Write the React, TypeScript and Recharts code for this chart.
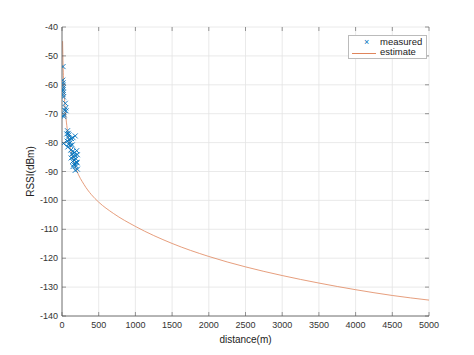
import {
  ComposedChart,
  Line,
  Scatter,
  XAxis,
  YAxis,
  CartesianGrid,
} from 'recharts';

// measured samples (distance in m, RSSI in dBm)
const measuredDist = [
  14, 10, 15, 12, 17, 13, 18, 14, 20,
  45, 50, 35, 55, 30, 25,
  75, 65, 85, 95, 180, 150, 130, 84, 100, 70, 110, 20, 90, 120, 80, 140,
  120, 150, 200, 170, 135, 180, 210, 155, 125, 190, 165, 145, 200, 175, 160, 190, 150, 210, 180, 205,
];
const measuredRssi = [
  -53.7, -58.4, -59.3, -60.2, -61.0, -61.8, -62.6, -63.4, -64.2,
  -66.4, -68.0, -68.8, -69.0, -70.4, -71.0,
  -75.9, -77.0, -76.8, -77.3, -77.7, -78.3, -78.6, -78.2, -79.0, -79.5, -80.0, -80.3, -80.6, -81.0, -81.5, -80.8,
  -82.6, -83.0, -82.8, -83.5, -84.0, -84.4, -84.2, -85.0, -85.3, -85.6, -86.0, -86.5, -86.8, -87.2, -87.6, -88.0, -88.3, -89.2, -89.6, -87.0,
];

// estimated path loss curve
const estimateDist = [8, 15, 25, 40, 60, 80, 100, 150, 200, 300, 400, 500, 700, 1000, 1500, 2000, 2500, 3000, 3500, 4000, 4500, 5000];
const estimateRssi = [-44.9, -53.6, -60.7, -67.3, -72.9, -76.9, -80.0, -85.6, -89.6, -94.5, -98.0, -100.6, -104.5, -109.0, -114.9, -119.4, -123.0, -126.0, -128.6, -130.9, -132.9, -134.5];

const xTicks = [0, 500, 1000, 1500, 2000, 2500, 3000, 3500, 4000, 4500, 5000];
const yTicks = [-140, -130, -120, -110, -100, -90, -80, -70, -60, -50, -40];

const measured = measuredDist.map((d, i) => ({ d, rssi: measuredRssi[i] }));
const estimate = estimateDist.map((d, i) => ({ d, rssi: estimateRssi[i] }));

const PLOT = { left: 62, right: 429, top: 27, bottom: 316 };
const AXIS = '#555';
const ORANGE = '#E0855C';
const FONT = '"Liberation Sans", Arial, Helvetica, sans-serif';

const XTick = (props: any) => {
  const { x, payload } = props;
  return (
    <g>
      <line x1={x} x2={x} y1={PLOT.bottom} y2={PLOT.bottom - 4} stroke={AXIS} strokeWidth={0.6} />
      <line x1={x} x2={x} y1={PLOT.top} y2={PLOT.top + 4} stroke={AXIS} strokeWidth={0.6} />
      <text x={x} y={PLOT.bottom + 12} textAnchor="middle" fontSize={9} fill="#333" fontFamily={FONT}>
        {payload.value}
      </text>
    </g>
  );
};

const YTick = (props: any) => {
  const { y, payload } = props;
  return (
    <g>
      <line x1={PLOT.left} x2={PLOT.left + 4} y1={y} y2={y} stroke={AXIS} strokeWidth={0.6} />
      <line x1={PLOT.right} x2={PLOT.right - 4} y1={y} y2={y} stroke={AXIS} strokeWidth={0.6} />
      <text x={PLOT.left - 4} y={y + 3} textAnchor="end" fontSize={9} fill="#333" fontFamily={FONT}>
        {payload.value}
      </text>
    </g>
  );
};

const Cross = (props: any) => {
  const { cx, cy } = props;
  const s = 2.5;
  return (
    <g stroke="#0072BD" strokeWidth={0.9}>
      <line x1={cx - s} y1={cy - s} x2={cx + s} y2={cy + s} />
      <line x1={cx - s} y1={cy + s} x2={cx + s} y2={cy - s} />
    </g>
  );
};

const LegendBox = () => (
  <div
    style={{
      position: 'absolute',
      left: 348,
      top: 35,
      width: 77,
      height: 22,
      border: '1px solid #bbb',
      background: '#fff',
      fontFamily: FONT,
      fontSize: 9.5,
      lineHeight: '10px',
      color: '#222',
    }}
  >
    <span style={{ position: 'absolute', left: 15, top: 1, color: '#0072BD', fontSize: 9 }}>×</span>
    <span style={{ position: 'absolute', left: 31, top: 1 }}>measured</span>
    <div style={{ position: 'absolute', left: 3, top: 17, width: 24, borderTop: `1px solid ${ORANGE}` }} />
    <span style={{ position: 'absolute', left: 31, top: 11 }}>estimate</span>
  </div>
);

export default function App() {
  return (
    <div style={{ position: 'absolute', left: 0, top: 0, width: 474, height: 355, background: '#fff' }}>
      <ComposedChart
        width={474}
        height={355}
        margin={{ top: PLOT.top, right: 474 - PLOT.right, bottom: 0, left: 0 }}
      >
        <CartesianGrid stroke="#e4e4e4" strokeWidth={0.8} />
        <XAxis
          dataKey="d"
          type="number"
          domain={[0, 5000]}
          ticks={xTicks}
          allowDataOverflow
          height={355 - PLOT.bottom}
          tickLine={false}
          tickSize={0}
          axisLine={{ stroke: AXIS, strokeWidth: 0.8 }}
          tick={<XTick />}
          interval={0}
          label={{
            value: 'distance(m)',
            position: 'insideBottom',
            offset: 12,
            style: { fontSize: 10, fill: '#222', fontFamily: FONT },
          }}
        />
        <XAxis
          xAxisId="top"
          orientation="top"
          type="number"
          domain={[0, 5000]}
          height={0}
          tick={false}
          tickLine={false}
          axisLine={{ stroke: AXIS, strokeWidth: 0.8 }}
        />
        <YAxis
          dataKey="rssi"
          type="number"
          domain={[-140, -40]}
          ticks={yTicks}
          allowDataOverflow
          width={PLOT.left}
          tickLine={false}
          tickSize={0}
          axisLine={{ stroke: AXIS, strokeWidth: 0.8 }}
          tick={<YTick />}
          interval={0}
          label={{
            value: 'RSSI(dBm)',
            angle: -90,
            position: 'insideLeft',
            offset: 30,
            style: { fontSize: 10, fill: '#222', fontFamily: FONT, textAnchor: 'middle' },
          }}
        />
        <YAxis
          yAxisId="right"
          orientation="right"
          type="number"
          domain={[-140, -40]}
          width={0}
          tick={false}
          tickLine={false}
          axisLine={{ stroke: AXIS, strokeWidth: 0.8 }}
        />
        <Line
          data={estimate}
          dataKey="rssi"
          type="monotone"
          stroke={ORANGE}
          strokeWidth={0.8}
          dot={false}
          isAnimationActive={false}
          name="estimate"
        />
        <Scatter
          data={measured}
          dataKey="rssi"
          shape={<Cross />}
          isAnimationActive={false}
          name="measured"
        />
      </ComposedChart>
      <LegendBox />
    </div>
  );
}
